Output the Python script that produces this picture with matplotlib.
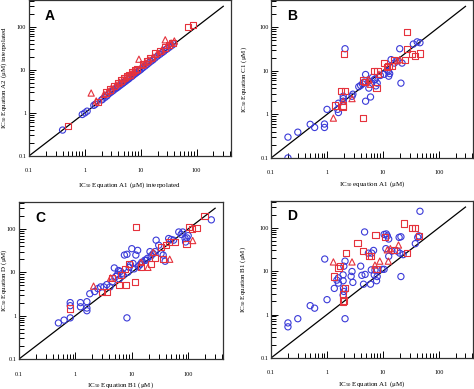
import matplotlib
matplotlib.use("Agg")
import matplotlib.pyplot as plt
from matplotlib.ticker import LogLocator, NullFormatter, FixedLocator, FixedFormatter

BLUE = "#3a3ad8"
RED = "#e5323c"

# ---- Panel A : A1 interpolated vs A2 interpolated ----
a_circ_x = [0.4, 0.9, 1.0, 1.1, 1.45, 1.55, 2.0, 2.1, 2.3, 2.5, 2.7, 2.9, 3.1, 3.3, 3.6, 3.8, 4.0,
            4.3, 4.6, 4.9, 5.2, 5.5, 5.9, 6.2, 6.6, 7.0, 7.4, 7.9, 8.4, 9.0, 9.6, 10.2, 11.0,
            12.0, 13.0, 14.0, 15.2, 16.5, 18.0, 20.0, 22.0, 24.0, 26.0, 28.0, 30.0, 33.0, 36.0, 39.0]
a_circ_y = [0.4, 0.92, 1.0, 1.1, 1.5, 1.6, 2.0, 2.1, 2.3, 2.5, 2.8, 3.0, 3.2, 3.4, 3.7, 3.9, 4.1,
            4.4, 4.7, 5.0, 5.3, 5.6, 6.0, 6.3, 6.8, 7.1, 7.6, 8.1, 8.6, 9.2, 9.8, 10.4, 11.3,
            12.3, 13.4, 14.5, 15.8, 17.0, 18.8, 21.0, 23.0, 25.0, 27.0, 29.5, 31.0, 34.0, 37.0, 40.0]
a_sq_x = [0.5, 1.7, 2.4, 2.8, 3.3, 3.9, 4.5, 5.1, 5.6, 6.3, 7.1, 7.8, 8.6, 11.0, 13.0,
          15.0, 18.3, 22.0, 27.0, 32.0, 37.0, 70.0, 85.0]
a_sq_y = [0.5, 1.8, 3.0, 3.5, 4.2, 4.9, 5.7, 6.4, 7.2, 7.6, 8.8, 9.8, 10.6, 13.5, 16.0,
          18.5, 24.0, 27.0, 33.0, 38.0, 43.0, 100.0, 112.0]
a_tri_x = [1.3, 1.6, 2.2, 2.6, 3.0, 3.6, 4.2, 4.8, 5.4, 6.0, 6.7, 7.5, 8.2, 9.3, 10.5,
           12.0, 14.0, 16.5, 20.0, 24.0, 27.5, 30.0, 35.0, 40.0]
a_tri_y = [2.9, 1.9, 2.7, 3.2, 3.8, 4.5, 5.2, 5.9, 6.6, 7.3, 8.1, 9.1, 10.0, 17.7, 12.8,
           14.7, 17.0, 20.0, 24.5, 29.0, 50.0, 37.0, 42.0, 47.0]

# ---- Panel B : A1 vs C1 ----
b_circ_x = [0.2, 0.2, 0.3, 0.5, 0.6, 0.9, 0.9, 1.0, 1.55, 1.6, 1.6, 1.95, 1.95, 1.95, 2.1,
            2.8, 2.9, 3.7, 4.0, 4.3, 4.6, 4.9, 4.9, 5.6, 5.6, 6.0, 6.5, 7.0, 7.3, 7.9, 7.5,
            9.0, 10.5, 12.0, 12.5, 12.7, 13.2, 14.0, 16.0, 18.0, 20.0, 21.0, 22.0, 35.0, 41.0, 46.0]
b_circ_y = [0.3, 0.1, 0.39, 0.59, 0.5, 0.6, 0.5, 1.3, 1.3, 1.1, 1.8, 2.0, 2.3, 2.6, 32.0,
            2.6, 2.9, 4.3, 4.6, 5.0, 5.5, 8.2, 2.0, 4.0, 5.8, 2.5, 7.0, 6.3, 6.3, 5.2, 4.5,
            7.8, 8.3, 10.4, 9.6, 7.5, 8.6, 18.0, 15.0, 17.0, 32.0, 5.2, 15.0, 41.0, 46.0, 44.0]
b_sq_x = [1.4, 1.8, 1.9, 1.95, 2.0, 2.1, 4.4, 4.5, 4.8, 7.0, 7.7, 8.0, 10.5, 12.0, 12.6,
          14.7, 16.0, 25.0, 26.6, 27.0, 33.0, 38.0, 46.0]
b_sq_y = [1.6, 3.4, 1.5, 1.6, 24.0, 3.4, 0.82, 6.0, 5.5, 9.8, 4.0, 9.8, 15.0, 12.0, 12.6,
          13.0, 18.0, 18.0, 79.0, 32.0, 24.0, 22.0, 25.0]
b_tri_x = [1.3, 1.95, 2.8, 5.6, 6.0, 8.5, 18.0, 20.0]
b_tri_y = [0.82, 2.0, 2.3, 6.3, 4.9, 8.3, 17.0, 18.0]

# ---- Panel C : B1 vs D ----
c_circ_x = [0.5, 0.63, 0.81, 0.81, 0.81, 1.23, 1.23, 1.6, 1.6, 1.6, 1.8, 2.2, 2.5, 2.8,
            3.2, 3.6, 4.1, 4.5, 4.9, 5.2, 5.6, 5.8, 6.3, 6.8, 7.4, 8.2, 8.2, 9.0, 9.5, 10.0,
            10.5, 11.8, 12.7, 13.0, 15.0, 17.0, 19.0, 21.0, 24.0, 27.0, 30.0, 33.0, 36.0,
            39.0, 45.0, 50.0, 55.0, 68.0, 75.0, 80.0, 88.0, 90.0, 95.0, 100.0, 257.0,
            6.0, 7.0, 8.5, 11.0, 14.0, 18.0, 22.0, 26.0]
c_circ_y = [0.68, 0.79, 0.89, 2.0, 1.7, 2.0, 1.6, 2.1, 1.5, 1.3, 3.2, 3.6, 4.2, 4.6,
            4.6, 5.2, 4.6, 6.0, 12.6, 8.0, 9.0, 11.0, 10.5, 9.5, 25.0, 26.0, 0.89, 13.0, 15.0, 35.0,
            16.0, 25.0, 32.0, 13.5, 17.0, 19.0, 21.0, 30.0, 27.0, 55.0, 42.0, 27.0, 25.0,
            18.0, 60.0, 57.0, 55.0, 85.0, 75.0, 85.0, 60.0, 50.0, 62.0, 70.0, 162.0,
            7.0, 8.5, 10.0, 12.0, 15.0, 19.0, 24.0, 30.0]
c_sq_x = [0.81, 3.0, 3.6, 4.5, 6.0, 6.4, 7.6, 7.9, 9.0, 11.5, 11.7, 14.7, 22.0, 26.0,
          33.0, 36.0, 40.0, 45.0, 58.0, 93.0, 104.0, 118.0, 140.0, 195.0]
c_sq_y = [1.46, 3.5, 3.5, 7.4, 5.0, 8.5, 11.7, 5.0, 15.8, 5.9, 110.0, 13.3, 15.8, 21.0,
          38.0, 20.0, 42.0, 50.0, 50.0, 44.0, 110.0, 100.0, 107.0, 200.0]
c_tri_x = [2.1, 4.2, 14.7, 19.3, 24.0, 47.0, 120.0]
c_tri_y = [4.8, 7.4, 17.0, 13.0, 29.0, 20.0, 54.0]

# ---- Panel D : A1 vs B1 ----
d_circ_x = [0.2, 0.2, 0.3, 0.5, 0.6, 0.91, 1.0, 1.35, 1.5, 1.6, 1.6, 1.94, 1.94, 1.97, 2.0,
            1.94, 2.0, 2.1, 2.1, 2.7, 2.8, 2.9, 4.0, 4.2, 4.5, 4.7, 4.8, 5.5, 6.0, 6.2, 6.3,
            6.8, 7.2, 7.7, 7.0, 7.9, 9.7, 10.5, 10.5, 11.5, 12.7, 12.0, 11.3, 12.7, 14.5, 18.0,
            20.0, 19.5, 21.0, 21.0, 23.0, 38.0, 42.0, 44.0, 46.0]
d_circ_y = [0.64, 0.52, 0.8, 1.6, 1.4, 19.0, 2.2, 4.0, 6.2, 5.3, 7.0, 8.2, 6.0, 4.0, 3.4,
            2.8, 13.0, 17.0, 0.8, 7.6, 9.8, 5.5, 13.0, 8.0, 5.0, 80.0, 8.4, 26.0, 5.0, 10.7, 26.0,
            30.0, 10.5, 6.0, 8.2, 7.5, 11.0, 11.0, 70.0, 72.0, 55.0, 65.0, 33.0, 22.0, 29.0, 29.0,
            26.0, 60.0, 62.0, 7.5, 24.0, 43.0, 60.0, 65.0, 240.0]
d_sq_x = [1.35, 1.6, 1.7, 1.94, 1.94, 2.0, 2.1, 2.2, 3.5, 4.4, 5.6, 6.2, 7.4, 7.7, 11.0,
          16.0, 24.0, 27.0, 33.0, 38.0, 44.0]
d_sq_y = [7.5, 11.7, 13.3, 2.9, 2.0, 2.1, 4.0, 26.0, 45.0, 29.0, 22.0, 22.0, 68.0, 11.0, 62.0,
          31.0, 126.0, 26.0, 100.0, 100.0, 64.0]
d_tri_x = [1.3, 2.8, 7.2, 8.8, 12.0, 12.5, 13.6, 19.0]
d_tri_y = [16.3, 16.3, 13.8, 17.0, 31.0, 17.0, 33.0, 40.0]

# letter, axes rect, xlabel, ylabel, circles, squares, triangles, xlabel pad, ylabel offset (px)
panels = [
    ("A", [0.061, 0.599, 0.426, 0.401],
     "IC$_{50}$ Equation A1 (\u03bcM) interpolated", "IC$_{50}$ Equation A2 (\u03bcM) interpolated",
     (a_circ_x, a_circ_y), (a_sq_x, a_sq_y), (a_tri_x, a_tri_y), 5, 20),
    ("B", [0.572, 0.594, 0.426, 0.406],
     "IC$_{50}$ equation A1 (\u03bcM)", "IC$_{50}$ Equation C1 (\u03bcM)",
     (b_circ_x, b_circ_y), (b_sq_x, b_sq_y), (b_tri_x, b_tri_y), 3, 22),
    ("C", [0.040, 0.077, 0.430, 0.404],
     "IC$_{50}$ Equation B1 (\u03bcM)", "IC$_{50}$ Equation D (\u03bcM)",
     (c_circ_x, c_circ_y), (c_sq_x, c_sq_y), (c_tri_x, c_tri_y), 2.5, 10),
    ("D", [0.572, 0.080, 0.426, 0.404],
     "IC$_{50}$ Equation A1 (\u03bcM)", "IC$_{50}$ Equation B1 (\u03bcM)",
     (d_circ_x, d_circ_y), (d_sq_x, d_sq_y), (d_tri_x, d_tri_y), 2.5, 23),
]

major = [0.1, 1, 10, 100]
major_lbl = ["0.1", "1", "10", "100"]

plt.rcParams["font.family"] = ["Liberation Serif", "DejaVu Serif"]
plt.rcParams["mathtext.fontset"] = "custom"
plt.rcParams["mathtext.rm"] = "Liberation Serif"
plt.rcParams["mathtext.it"] = "Liberation Serif:italic"

fig = plt.figure(figsize=(4.74, 3.89), dpi=100)

for letter, rect, xl, yl, circ, sq, tri, xpad, yoff in panels:
    ax = fig.add_axes(rect)
    ax.set_xscale("log")
    ax.set_yscale("log")
    ax.set_xlim(0.1, 410)
    ax.set_ylim(0.1, 420)
    ax.plot([0.1, 300], [0.1, 300], color="black", lw=0.9, zorder=1)
    ax.scatter(circ[0], circ[1], s=20, facecolors="none", edgecolors=BLUE, linewidths=0.8, marker="o", zorder=3)
    ax.scatter(sq[0], sq[1], s=20, facecolors="none", edgecolors=RED, linewidths=0.8, marker="s", zorder=3)
    ax.scatter(tri[0], tri[1], s=20, facecolors="none", edgecolors=RED, linewidths=0.8, marker="^", zorder=3)

    for axis in (ax.xaxis, ax.yaxis):
        axis.set_major_locator(FixedLocator(major))
        axis.set_major_formatter(FixedFormatter(major_lbl))
        axis.set_minor_locator(LogLocator(base=10, subs=range(2, 10)))
        axis.set_minor_formatter(NullFormatter())
    ax.tick_params(which="both", direction="in", top=False, right=False, labelsize=4.5, width=0.7)
    ax.tick_params(axis="x", which="major", length=5, pad=9)
    ax.tick_params(axis="x", which="minor", length=3.5)
    ax.tick_params(axis="y", which="major", length=5, pad=2)
    ax.tick_params(axis="y", which="minor", length=3.5)
    for sp in ax.spines.values():
        sp.set_linewidth(0.9)
        sp.set_color("#333333")

    ax.set_xlabel(xl, fontsize=5, labelpad=xpad)
    ax.set_ylabel(yl, fontsize=5)
    # y label placed a fixed number of pixels left of the spine
    ax.yaxis.set_label_coords(-yoff / (rect[2] * 474), 0.5)
    ax.text(0.08, 0.9, letter, transform=ax.transAxes, fontsize=10, fontweight="bold",
            family=["Liberation Sans", "DejaVu Sans"], va="center", ha="left")

fig.savefig("out.png", dpi=100)
